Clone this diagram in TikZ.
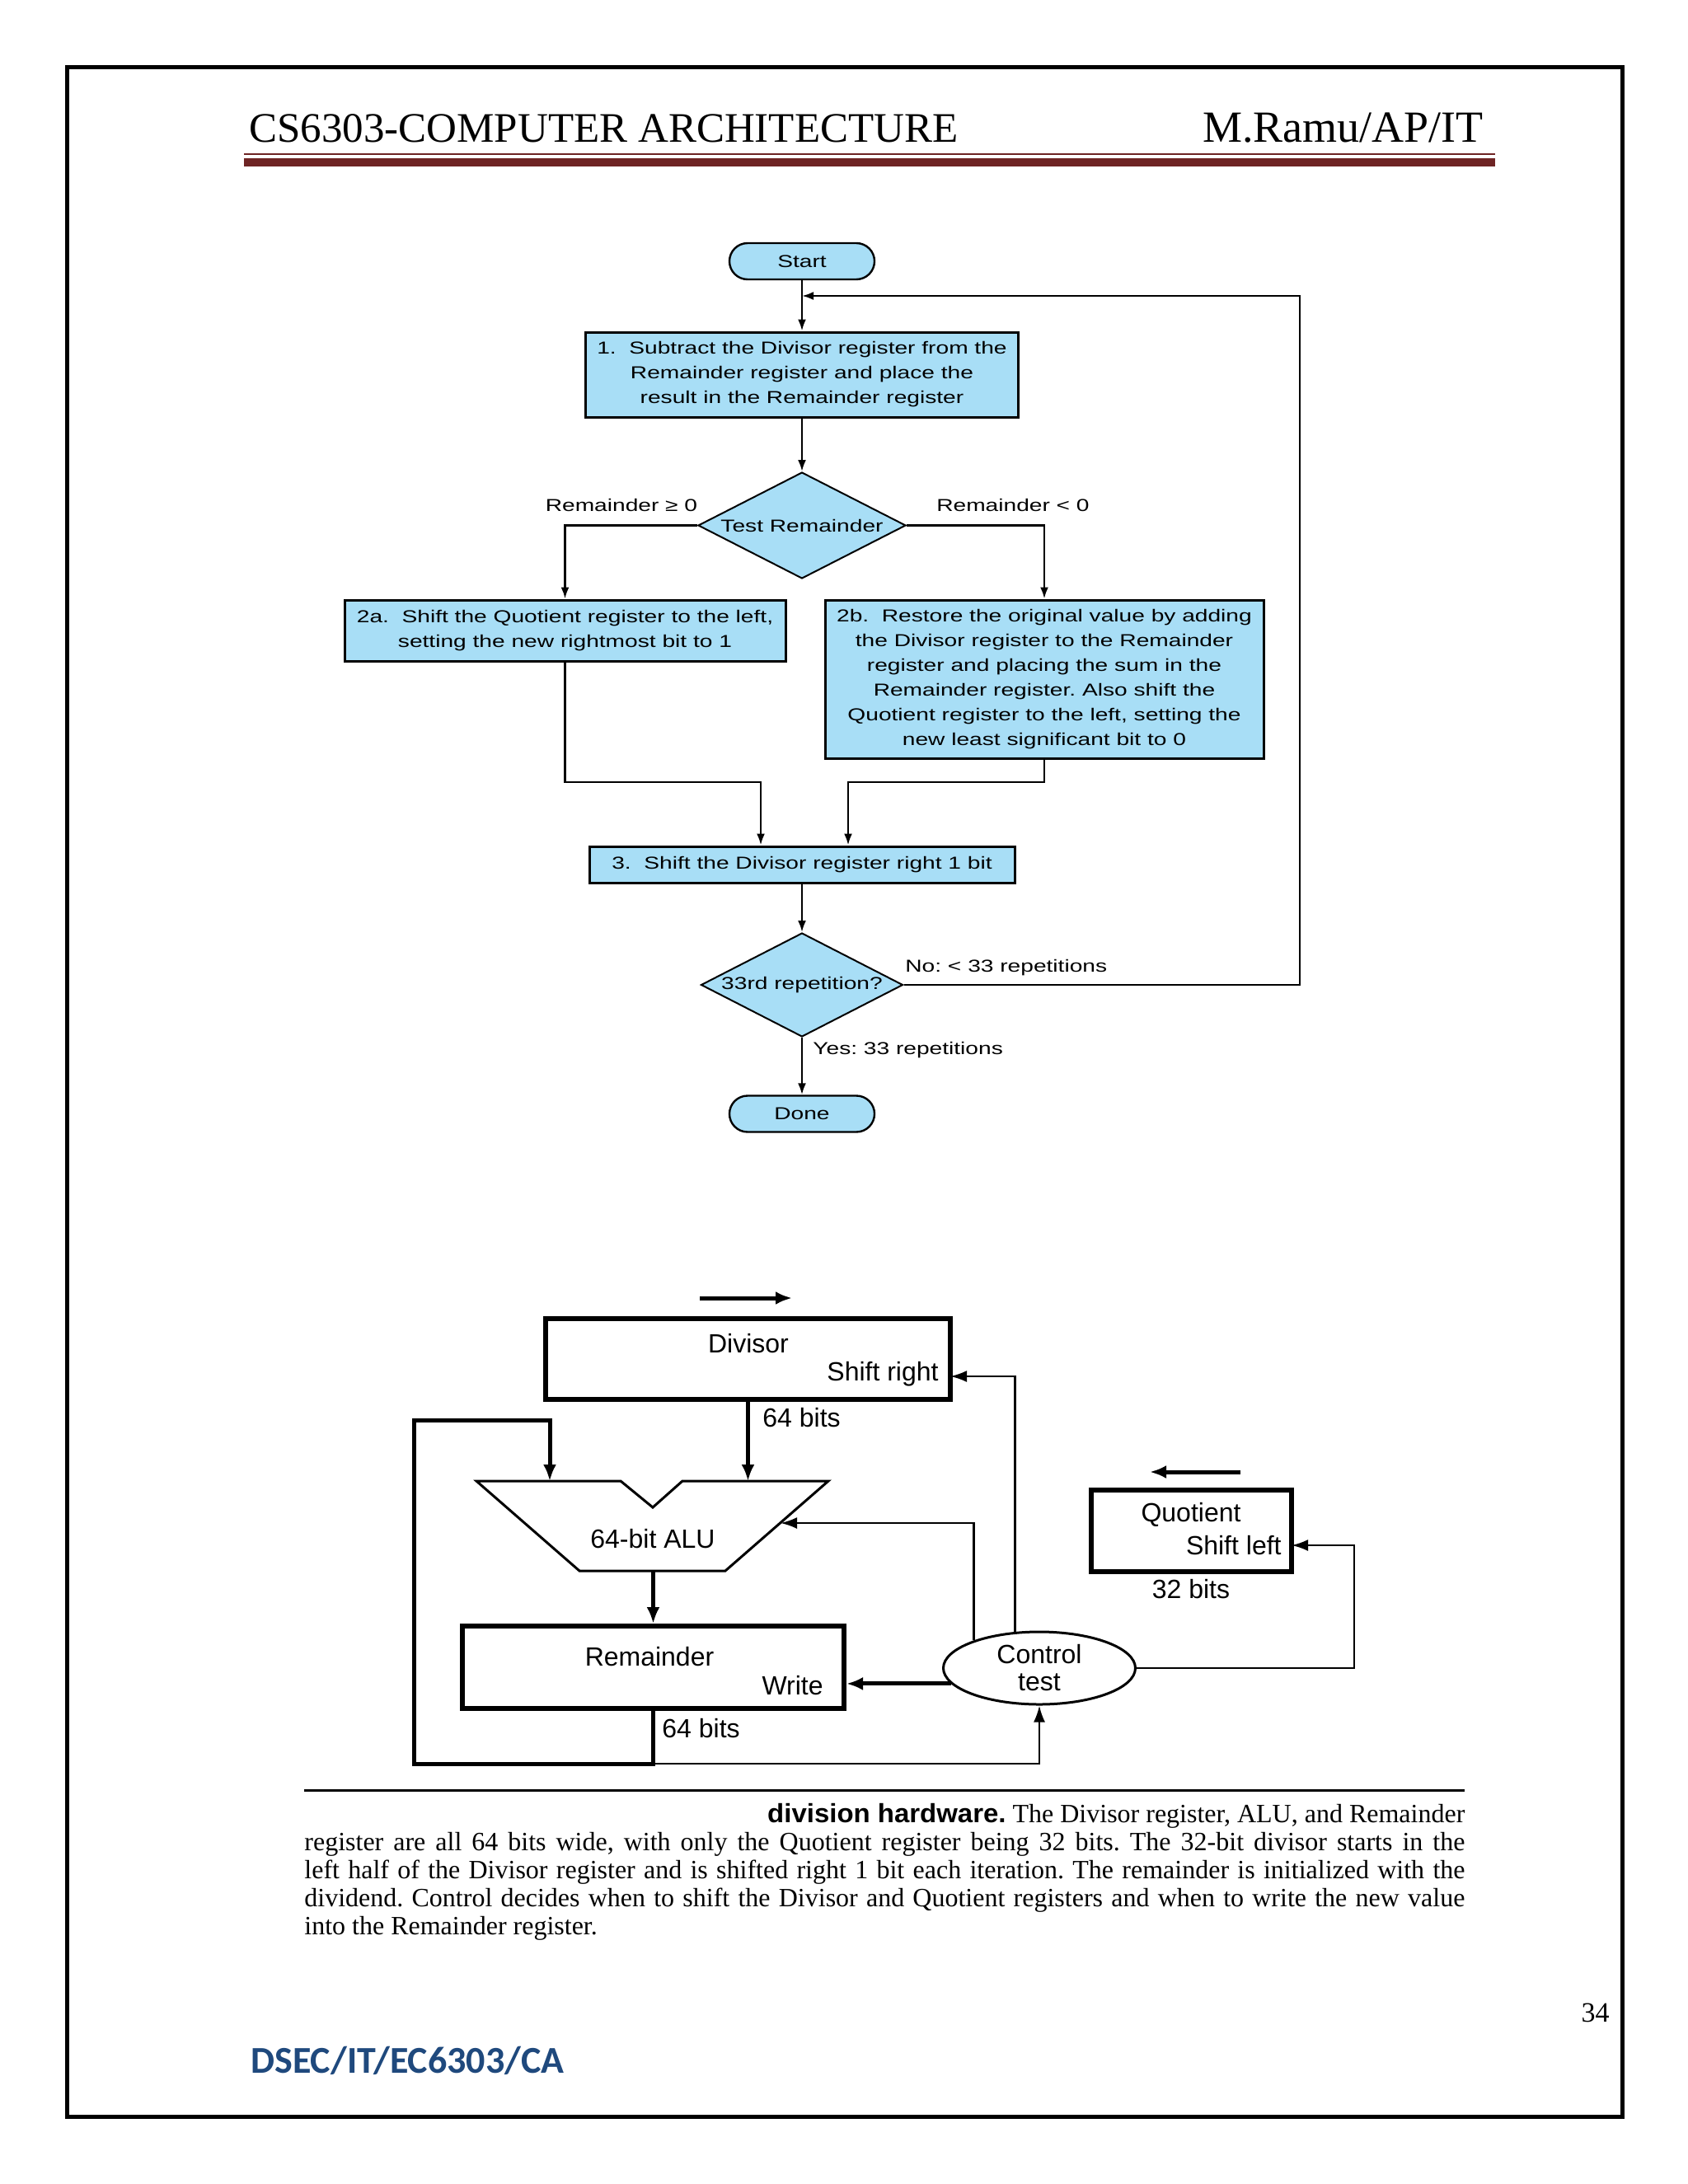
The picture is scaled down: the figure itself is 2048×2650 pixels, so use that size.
\documentclass[tikz,border=0pt]{standalone}
\usepackage{fontspec}
\setmainfont{Liberation Serif}
\newfontfamily\flowfont[FakeStretch=1.34]{Liberation Sans}
\newfontfamily\hwfont{Liberation Sans}
\newfontfamily\capsans[FakeStretch=1.03]{Liberation Sans}
\newfontfamily\footfont{Carlito}
\usepackage{xcolor}
\usetikzlibrary{shapes.geometric,arrows.meta}
\definecolor{flowblue}{RGB}{168,222,246}
\definecolor{rulered}{RGB}{110,36,36}
\definecolor{footblue}{RGB}{31,73,125}

\begin{document}
\frenchspacing
\begin{tikzpicture}[
    x=0.5pt, y=-0.5pt,
    flowtext/.style={font=\flowfont\fontsize{10.5}{15}\selectfont},
    stepbox/.style={rectangle, draw, line width=1.5pt, fill=flowblue, align=center, inner sep=0pt, flowtext},
    termbox/.style={rectangle, rounded corners=11pt, draw, line width=1.2pt, fill=flowblue, minimum width=88pt, minimum height=22pt, inner sep=0pt, flowtext},
    testbox/.style={diamond, draw, line width=1pt, fill=flowblue, inner sep=0pt, flowtext},
    flowlabel/.style={inner sep=0pt, flowtext},
    flowarrow/.style={line width=1.2pt, -{Latex[length=7pt,width=5pt]}},
    regbox/.style={rectangle, draw, line width=3pt, inner sep=0pt},
    ctrlnode/.style={ellipse, draw, line width=1.5pt, align=center, inner sep=0pt, font=\hwfont\fontsize{16}{16.5}\selectfont},
    hwlabel/.style={inner sep=0pt, font=\hwfont\fontsize{16}{18}\selectfont},
    busarrow/.style={line width=2.5pt, -{Latex[length=10pt,width=8pt]}},
    sigarrow/.style={line width=1.2pt, -{Latex[length=10pt,width=7pt]}}
]
\useasboundingbox (0,0) rectangle (2048,2650);

% page frame and header
\draw[line width=2.5pt] (81,81) rectangle (1968,2568);
\node[anchor=base west, inner sep=0pt, font=\fontsize{25.5}{28}\selectfont] (title) at (302,172) {CS6303-COMPUTER ARCHITECTURE};
\node[anchor=base east, inner sep=0pt, font=\fontsize{27}{30}\selectfont] (author) at (1800,172) {M.Ramu/AP/IT};
\draw[rulered, line width=1pt] (296,187) -- (1814,187);
\draw[rulered, line width=5pt] (296,197) -- (1814,197);

% flowchart
\node[termbox] (start) at (973,317) {Start};
\node[stepbox, minimum width=262.5pt, minimum height=51.5pt] (subtract) at (973,454.5)
    {1.\ \ Subtract the Divisor register from the\\Remainder register and place the\\result in the Remainder register};
\node[testbox, minimum width=126pt, minimum height=64.5pt] (testrem) at (973,637.5) {\makebox[0pt]{Test Remainder}};
\node[stepbox, minimum width=267.5pt, minimum height=37pt] (shiftq) at (685.5,765)
    {2a.\ \ Shift the Quotient register to the left,\\setting the new rightmost bit to 1};
\node[stepbox, minimum width=266pt, minimum height=96pt] (restore) at (1267,824)
    {2b.\ \ Restore the original value by adding\\the Divisor register to the Remainder\\register and placing the sum in the\\Remainder register. Also shift the\\Quotient register to the left, setting the\\new least significant bit to 0};
\node[stepbox, minimum width=258pt, minimum height=22pt] (shiftd) at (973,1049) {3.\ \ Shift the Divisor register right 1 bit};
\node[testbox, minimum width=122.5pt, minimum height=63pt] (testrep) at (973,1195) {\makebox[0pt]{33rd repetition?}};
\node[termbox] (done) at (973,1351.5) {Done};

\node[flowlabel] (geq) at (754,613) {Remainder ≥ 0};
\node[flowlabel] (less) at (1229,613) {Remainder < 0};
\node[flowlabel, anchor=west] (nolbl) at (1098,1174) {No: < 33 repetitions};
\node[flowlabel, anchor=west] (yeslbl) at (986,1274) {Yes: 33 repetitions};

\coordinate (back) at (973,359);
\coordinate (noturn) at (1577,1195);
\coordinate (joinl) at (923,949);
\coordinate (joinr) at (1029,949);

\draw[flowarrow] (start) -- (subtract);
\draw[flowarrow] (subtract) -- (testrem);
\draw[flowarrow] (testrem.west) -| (shiftq.north);
\draw[flowarrow] (testrem.east) -| (restore.north);
\draw[flowarrow] (shiftq.south) |- (joinl) -- (joinl |- shiftd.north);
\draw[flowarrow] (restore.south) |- (joinr) -- (joinr |- shiftd.north);
\draw[flowarrow] (shiftd) -- (testrep);
\draw[flowarrow] (testrep) -- (done);
\draw[flowarrow] (testrep.east) -- (noturn) |- (back);

% division hardware
\node[regbox, minimum width=245.5pt, minimum height=49pt] (divisor) at (907.5,1649) {};
\node[hwlabel] (divname) at (908,1630) {Divisor};
\node[hwlabel, anchor=east] (divshift) at (1139,1667) {Shift right};
\node[hwlabel, anchor=west] (divbits) at (925,1720) {64 bits};

\node[regbox, minimum width=231.5pt, minimum height=50pt] (rem) at (792.5,2023) {};
\node[hwlabel] (remname) at (788,2010) {Remainder};
\node[hwlabel, anchor=east] (remwrite) at (999,2045) {Write};
\node[hwlabel, anchor=west] (rembits) at (803,2097) {64 bits};

\node[regbox, minimum width=121.5pt, minimum height=49.5pt] (quot) at (1445.5,1857.5) {};
\node[hwlabel] (quotname) at (1445,1838) {Quotient};
\node[hwlabel, anchor=east] (quotshift) at (1555,1875) {Shift left};
\node[hwlabel] (quotbits) at (1445,1928) {32 bits};

\node[ctrlnode, minimum width=116.5pt, minimum height=44pt] (ctrl) at (1261,2024) {Control\\test};

\draw[line width=1.5pt, line join=miter] (578,1797) -- (753,1797) -- (792,1829) -- (828,1797) -- (1005,1797)
    -- (880,1906) -- (703,1906) -- cycle;
\node[hwlabel] (aluname) at (792,1867) {64-bit ALU};

\coordinate (alu-in1) at (667,1797);
\coordinate (alu-in2) at (907.5,1797);
\coordinate (alu-out) at (792.5,1906);
\coordinate (alu-ctl) at (947,1848);
\coordinate (div-sr) at (1153,1670);
\coordinate (quot-sl) at (1567,1875);
\coordinate (qturn) at (1643,1875);
\coordinate (remtap) at (792.5,2140);
\coordinate (loopbl) at (502,2140);
\coordinate (looptl) at (502,1723);
\coordinate (srfrom) at (849,1575);
\coordinate (srto) at (961,1575);
\coordinate (slfrom) at (1505,1786);
\coordinate (slto) at (1395,1786);

\draw[busarrow] (srfrom) -- (srto);
\draw[busarrow] (slfrom) -- (slto);
\draw[busarrow] (divisor) -- (alu-in2);
\draw[busarrow] (alu-out) -- (alu-out |- rem.north);
\draw[busarrow, line join=miter] (rem.south) -- (remtap) -- (loopbl) -- (looptl) -| (alu-in1);
\draw[sigarrow] (remtap) -| (ctrl.south);
\draw[busarrow] (ctrl.190) -- (ctrl.190 -| rem.east);
\draw[sigarrow] (ctrl.157) |- (alu-ctl);
\draw[sigarrow] (ctrl.124) |- (div-sr);
\draw[sigarrow] (ctrl.east) -| (qturn) -- (quot-sl);

% caption
\draw[line width=1.5pt] (369,2172) -- (1777,2172);
\node[anchor=north west, inner sep=0pt, align=left, font=\fontsize{16}{17}\selectfont] (caption) at (369,2188) {%
\makebox[704pt][r]{{\capsans\bfseries division hardware.} The Divisor register, ALU, and Remainder}\\
\makebox[704pt][s]{register are all 64 bits wide, with only the Quotient register being 32 bits. The 32-bit divisor starts in the}\\
\makebox[704pt][s]{left half of the Divisor register and is shifted right 1 bit each iteration. The remainder is initialized with the}\\
\makebox[704pt][s]{dividend. Control decides when to shift the Divisor and Quotient registers and when to write the new value}\\
into the Remainder register.};

% footer
\node[anchor=base east, inner sep=0pt, font=\fontsize{17}{20}\selectfont] (pageno) at (1953,2453) {34};
\node[anchor=base west, inner sep=0pt, text=footblue, font=\footfont\bfseries\fontsize{23}{26}\selectfont] (footer) at (304,2515) {DSEC/IT/EC6303/CA};
\end{tikzpicture}
\end{document}
